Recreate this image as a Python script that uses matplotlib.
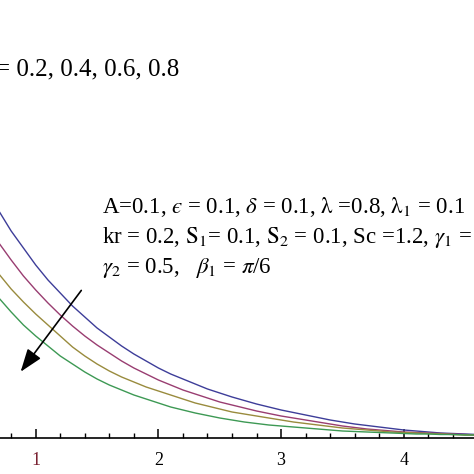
import matplotlib
matplotlib.use("Agg")
import matplotlib.pyplot as plt
from matplotlib.ticker import MultipleLocator

# Profiles (arbitrary units, 1.0 ~ 100 px above the axis)
eta = [0.7, 0.8, 0.9, 1.0, 1.1, 1.2, 1.3, 1.4, 1.5, 1.6,
       1.7, 1.8, 1.9, 2.0, 2.1, 2.2, 2.3, 2.4, 2.5, 2.6,
       2.7, 2.8, 2.9, 3.0, 3.1, 3.2, 3.3, 3.4, 3.5, 3.6,
       3.7, 3.8, 3.9, 4.0, 4.1, 4.2, 4.3, 4.4, 4.5, 4.6]
phi_02 = [2.27, 2.07, 1.90, 1.73, 1.58, 1.45, 1.32, 1.21, 1.10, 1.01,
          0.92, 0.84, 0.77, 0.70, 0.64, 0.59, 0.54, 0.49, 0.45, 0.41,
          0.375, 0.34, 0.31, 0.28, 0.255, 0.23, 0.205, 0.18, 0.16, 0.14,
          0.125, 0.11, 0.095, 0.08, 0.07, 0.06, 0.05, 0.045, 0.04, 0.035]
phi_04 = [1.95, 1.78, 1.62, 1.48, 1.35, 1.23, 1.12, 1.02, 0.93, 0.85,
          0.77, 0.70, 0.64, 0.58, 0.53, 0.48, 0.44, 0.40, 0.36, 0.33,
          0.30, 0.27, 0.245, 0.22, 0.20, 0.18, 0.16, 0.14, 0.12, 0.105,
          0.09, 0.08, 0.07, 0.06, 0.055, 0.05, 0.045, 0.04, 0.035, 0.03]
phi_06 = [1.64, 1.49, 1.36, 1.24, 1.13, 1.02, 0.91, 0.82, 0.74, 0.67,
          0.61, 0.56, 0.51, 0.47, 0.43, 0.39, 0.35, 0.32, 0.29, 0.26,
          0.24, 0.22, 0.20, 0.18, 0.16, 0.145, 0.13, 0.115, 0.10, 0.09,
          0.08, 0.07, 0.06, 0.055, 0.05, 0.045, 0.04, 0.035, 0.03, 0.03]
phi_08 = [1.40, 1.26, 1.13, 1.02, 0.92, 0.82, 0.74, 0.66, 0.59, 0.53,
          0.48, 0.43, 0.39, 0.35, 0.31, 0.28, 0.25, 0.225, 0.20, 0.18,
          0.16, 0.145, 0.13, 0.12, 0.11, 0.10, 0.09, 0.08, 0.07, 0.065,
          0.06, 0.055, 0.05, 0.045, 0.04, 0.04, 0.035, 0.035, 0.03, 0.03]

series = [phi_02, phi_04, phi_06, phi_08]
# old Mathematica default plot colours
colors = ["#3d3d99", "#993d71", "#998b3d", "#3d9954"]

plt.rcParams.update({
    "font.family": ["Liberation Serif", "DejaVu Serif"],
    "mathtext.fontset": "stix",
})

fig = plt.figure(figsize=(4.74, 4.74), dpi=100)
ax = fig.add_axes([0, 0, 1, 1])

for ys, c in zip(series, colors):
    ax.plot(eta, ys, color=c, lw=1.0)

ax.set_xlim(0.709, 4.572)
ax.set_ylim(-0.36, 4.38)

for s in ("left", "right", "top"):
    ax.spines[s].set_visible(False)
ax.spines["bottom"].set_position(("data", 0))
ax.spines["bottom"].set_linewidth(1.2)
ax.yaxis.set_visible(False)

ax.xaxis.set_major_locator(MultipleLocator(1))
ax.xaxis.set_minor_locator(MultipleLocator(0.2))
ax.tick_params(axis="x", which="major", direction="in", length=6.5, width=1.1,
               pad=10, labelsize=13)
ax.tick_params(axis="x", which="minor", direction="in", length=3.5, width=1.0)
ax.set_xticks([1, 2, 3, 4])
ax.set_xticklabels(["1", "2", "3", "4"])
ax.get_xticklabels()[0].set_color("#7a2232")

ax.text(-0.008, 0.840, "= 0.2, 0.4, 0.6, 0.8", transform=ax.transAxes,
        fontsize=18, va="baseline", ha="left")

lines = [
    "A=0.1, $\u03f5$ = 0.1, $\\delta$ = 0.1, $\\mathrm{\\lambda}$ =0.8, "
    "$\\mathrm{\\lambda}_1$ = 0.1",
    r"kr = 0.2, $\mathrm{S}_1$= 0.1, $\mathrm{S}_2$ = 0.1, Sc =1.2, $\gamma_1$ = 0.5",
    r"$\gamma_2$ = 0.5,   $\beta_1$ = $\pi$/6",
]
for ypos, txt in zip([0.551, 0.487, 0.424], lines):
    ax.text(0.215, ypos, txt, transform=ax.transAxes, fontsize=16.5,
            va="baseline", ha="left")

ax.annotate("", xy=(0.040, 0.211), xytext=(0.175, 0.392),
            xycoords="axes fraction", textcoords="axes fraction",
            arrowprops=dict(arrowstyle="-|>,head_length=1.4,head_width=0.5",
                            color="black", lw=1.2))

fig.savefig("out.png", dpi=100, facecolor="white")
